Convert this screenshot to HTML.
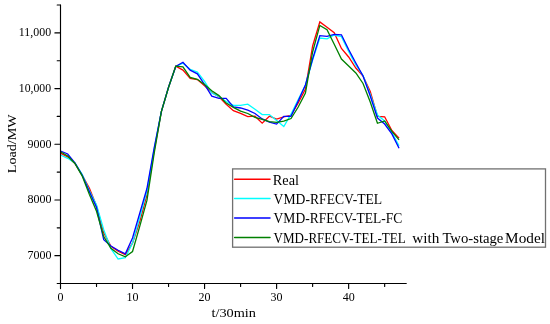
<!DOCTYPE html>
<html><head><meta charset="utf-8"><title>Load forecast</title>
<style>html,body{margin:0;padding:0;background:#fff;}svg{display:block;}</style>
</head><body>
<svg width="550" height="324" viewBox="0 0 550 324">
<rect width="550" height="324" fill="#fff"/>
<polyline fill="none" stroke="#ff0000" stroke-width="1.3" stroke-linejoin="miter" points="60.50,153.10 67.70,157.00 74.91,163.30 82.11,175.00 89.31,188.00 96.52,206.00 103.72,232.80 110.92,246.30 118.13,251.30 125.33,254.60 132.53,243.20 139.74,221.60 146.94,194.80 154.15,151.00 161.35,111.60 168.55,87.40 175.76,66.30 182.96,70.10 190.16,78.40 197.37,79.50 204.57,85.80 211.77,92.50 218.98,96.80 226.18,104.20 233.38,110.70 240.59,113.40 247.79,116.70 254.99,116.20 262.20,123.20 269.40,116.20 276.61,119.00 283.81,116.90 291.01,115.30 298.22,103.00 305.42,89.00 312.62,46.00 319.83,21.90 327.03,27.30 334.23,32.70 341.44,48.50 348.64,57.00 355.84,68.00 363.05,76.00 370.25,91.50 377.45,116.30 384.66,116.80 391.86,130.50 399.06,138.10"/>
<polyline fill="none" stroke="#00ffff" stroke-width="1.3" stroke-linejoin="miter" points="60.50,155.00 67.70,158.30 74.91,163.00 82.11,174.30 89.31,190.50 96.52,205.00 103.72,229.70 110.92,248.70 118.13,259.00 125.33,257.70 132.53,243.00 139.74,217.60 146.94,191.00 154.15,149.00 161.35,111.60 168.55,87.40 175.76,66.50 182.96,63.20 190.16,69.30 197.37,72.10 204.57,81.40 211.77,93.00 218.98,96.50 226.18,101.50 233.38,105.30 240.59,105.30 247.79,104.20 254.99,109.20 262.20,114.60 269.40,114.60 276.61,120.60 283.81,126.60 291.01,114.20 298.22,99.50 305.42,85.00 312.62,60.00 319.83,38.00 327.03,38.90 334.23,35.00 341.44,36.60 348.64,51.50 355.84,65.00 363.05,75.60 370.25,94.50 377.45,115.00 384.66,121.00 391.86,132.50 399.06,145.80"/>
<polyline fill="none" stroke="#0000ff" stroke-width="1.3" stroke-linejoin="miter" points="60.50,151.00 67.70,154.00 74.91,162.80 82.11,175.00 89.31,191.50 96.52,207.50 103.72,239.70 110.92,246.00 118.13,250.30 125.33,253.80 132.53,238.00 139.74,213.30 146.94,188.50 154.15,148.00 161.35,111.60 168.55,87.00 175.76,66.50 182.96,62.30 190.16,70.20 197.37,73.80 204.57,84.50 211.77,96.20 218.98,98.30 226.18,98.30 233.38,106.90 240.59,108.00 247.79,110.20 254.99,113.50 262.20,118.90 269.40,122.10 276.61,124.10 283.81,116.40 291.01,116.40 298.22,101.00 305.42,85.00 312.62,59.00 319.83,35.60 327.03,36.30 334.23,34.30 341.44,34.80 348.64,49.50 355.84,63.00 363.05,76.00 370.25,96.00 377.45,118.00 384.66,124.00 391.86,133.90 399.06,148.30"/>
<polyline fill="none" stroke="#008000" stroke-width="1.3" stroke-linejoin="miter" points="60.50,151.70 67.70,156.00 74.91,163.50 82.11,175.80 89.31,194.30 96.52,211.30 103.72,236.60 110.92,248.20 118.13,253.80 125.33,256.80 132.53,251.50 139.74,226.40 146.94,200.40 154.15,153.50 161.35,111.60 168.55,87.40 175.76,66.10 182.96,66.90 190.16,77.40 197.37,79.30 204.57,84.50 211.77,90.70 218.98,95.60 226.18,103.10 233.38,107.40 240.59,111.20 247.79,113.50 254.99,117.30 262.20,119.40 269.40,121.60 276.61,122.30 283.81,121.20 291.01,118.50 298.22,107.00 305.42,93.00 312.62,52.00 319.83,25.40 327.03,29.70 334.23,44.30 341.44,59.00 348.64,66.00 355.84,73.00 363.05,83.50 370.25,102.00 377.45,123.30 384.66,121.00 391.86,131.40 399.06,139.80"/>
<path d="M60.5,5.04V288.60M57.2,283.50H406.27" stroke="#000" stroke-width="1.15" stroke-linecap="round" fill="none"/>
<path d="M54.9,255.65H60.5M57.2,227.81H60.5M54.9,199.96H60.5M57.2,172.12H60.5M54.9,144.27H60.5M57.2,116.43H60.5M54.9,88.58H60.5M57.2,60.73H60.5M54.9,32.89H60.5M57.2,5.04H60.5M96.52,283.50V286.50M132.53,283.50V288.50M168.55,283.50V286.50M204.57,283.50V288.50M240.59,283.50V286.50M276.61,283.50V288.50M312.62,283.50V286.50M348.64,283.50V288.50M384.66,283.50V286.50" stroke="#000" stroke-width="1.15" stroke-linecap="round" fill="none"/>
<text x="27.4" y="258.95" font-family='"Liberation Serif", serif' font-size="12.4" textLength="24.0" lengthAdjust="spacingAndGlyphs">7000</text>
<text x="27.4" y="203.26" font-family='"Liberation Serif", serif' font-size="12.4" textLength="24.0" lengthAdjust="spacingAndGlyphs">8000</text>
<text x="27.4" y="147.57" font-family='"Liberation Serif", serif' font-size="12.4" textLength="24.0" lengthAdjust="spacingAndGlyphs">9000</text>
<text x="18.8" y="91.88" font-family='"Liberation Serif", serif' font-size="12.4" textLength="32.3" lengthAdjust="spacingAndGlyphs">10,000</text>
<text x="18.8" y="36.19" font-family='"Liberation Serif", serif' font-size="12.4" textLength="32.3" lengthAdjust="spacingAndGlyphs">11,000</text>
<text x="60.50" y="301.1" text-anchor="middle" font-family='"Liberation Serif", serif' font-size="12">0</text>
<text x="132.53" y="301.1" text-anchor="middle" font-family='"Liberation Serif", serif' font-size="12">10</text>
<text x="204.57" y="301.1" text-anchor="middle" font-family='"Liberation Serif", serif' font-size="12">20</text>
<text x="276.61" y="301.1" text-anchor="middle" font-family='"Liberation Serif", serif' font-size="12">30</text>
<text x="348.64" y="301.1" text-anchor="middle" font-family='"Liberation Serif", serif' font-size="12">40</text>
<text x="211.5" y="317.3" font-family='"Liberation Serif", serif' font-size="13" textLength="44.5" lengthAdjust="spacingAndGlyphs">t/30min</text>
<text transform="translate(15.7,173.2) rotate(-90)" x="0" y="0" font-family='"Liberation Serif", serif' font-size="13" textLength="58.8" lengthAdjust="spacingAndGlyphs">Load/MW</text>
<rect x="232.6" y="168.9" width="312.9" height="78.3" fill="#fff" stroke="#707070" stroke-width="1.3"/>
<path d="M234.6,179.20H270" stroke="#ff0000" stroke-width="1.5" stroke-linecap="round"/>
<text x="272.80" y="184.50" font-family='"Liberation Serif", serif' font-size="13.9" textLength="26.30" lengthAdjust="spacingAndGlyphs">Real</text>
<path d="M234.6,198.60H270" stroke="#00ffff" stroke-width="1.5" stroke-linecap="round"/>
<text x="273.60" y="203.90" font-family='"Liberation Serif", serif' font-size="13.9" textLength="108.60" lengthAdjust="spacingAndGlyphs">VMD-RFECV-TEL</text>
<path d="M234.6,218.00H270" stroke="#0000ff" stroke-width="1.5" stroke-linecap="round"/>
<text x="273.60" y="223.30" font-family='"Liberation Serif", serif' font-size="13.9" textLength="128.80" lengthAdjust="spacingAndGlyphs">VMD-RFECV-TEL-FC</text>
<path d="M234.6,237.40H270" stroke="#008000" stroke-width="1.5" stroke-linecap="round"/>
<text x="273.60" y="242.70" font-family='"Liberation Serif", serif' font-size="13.9" textLength="132.20" lengthAdjust="spacingAndGlyphs">VMD-RFECV-TEL-TEL</text>
<text x="412.20" y="242.70" font-family='"Liberation Serif", serif' font-size="13.9" textLength="27.10" lengthAdjust="spacingAndGlyphs">with</text>
<text x="442.40" y="242.70" font-family='"Liberation Serif", serif' font-size="13.9" textLength="61.00" lengthAdjust="spacingAndGlyphs">Two-stage</text>
<text x="505.10" y="242.70" font-family='"Liberation Serif", serif' font-size="13.9" textLength="39.80" lengthAdjust="spacingAndGlyphs">Model</text>
</svg>
</body></html>
